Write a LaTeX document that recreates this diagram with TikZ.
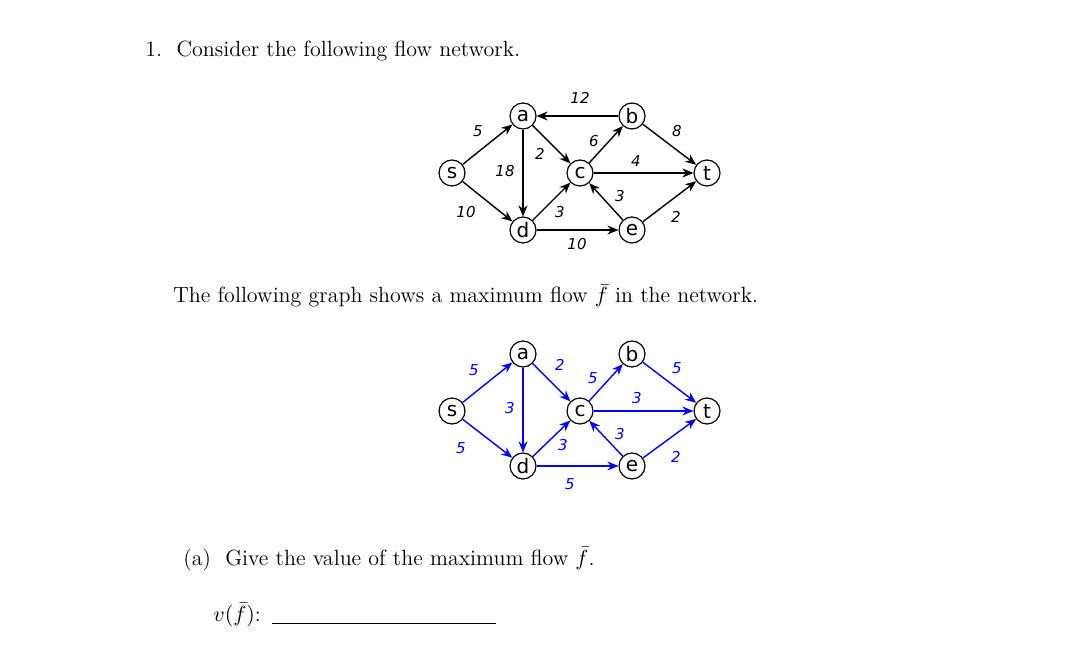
\documentclass[tikz,border=0pt]{standalone}
\usepackage{fontspec}
\newfontfamily\sansf{DejaVu Sans}
\usetikzlibrary{arrows.meta}
\begin{document}
\begin{tikzpicture}[x=0.5pt,y=-0.5pt,
 v/.style={circle,draw,line width=0.6pt,minimum size=13pt,inner sep=0pt,font=\sansf\fontsize{10}{10}\selectfont},
 e/.style={line width=0.7pt,-{Stealth[length=5.5pt,width=4.5pt]}},
 be/.style={e,blue},
 l/.style={font=\sansf\itshape\fontsize{7.5}{7.5}\selectfont},
 bl/.style={l,text=blue},
 t/.style={anchor=base west,font=\fontsize{11}{13}\selectfont,inner sep=0pt}]
\useasboundingbox (0,0) rectangle (1074,651);
\node[t] (tx1) at (145,57) {1.\ \ Consider the following flow network.};
\node[t] (tx2) at (173,303) {The following graph shows a maximum flow $\bar f$ in the network.};
\node[t] (tx3) at (183,565) {(a)\ \ Give the value of the maximum flow $\bar f$.};
\node[t] (tx4) at (213,621) {$v(\bar f)$:};
\coordinate (l1) at (272,623); \coordinate (l2) at (496,623);
\draw[line width=0.5pt] (l1) -- (l2);
% top graph
\foreach \n/\x/\y in {s/452/173,a/523/116,b/632/116,c/580/173,d/523/230,e/632/230,t/707/173}
  \node[v] (\n) at (\x,\y) {\n};
\draw[e] (s)--(a); \draw[e] (s)--(d); \draw[e] (b)--(a); \draw[e] (a)--(d); \draw[e] (a)--(c);
\draw[e] (c)--(b); \draw[e] (c)--(t); \draw[e] (b)--(t); \draw[e] (d)--(c); \draw[e] (e)--(c);
\draw[e] (d)--(e); \draw[e] (e)--(t);
\foreach \p/\x/\y in {5/478/131,12/580/98,8/677/131,2/540/154,18/505/171,6/594/141,4/636/161,3/620/196,10/466/212,3/560/212,2/676/217,10/577/244}
  \node[l] at (\x,\y) {\p};
% bottom graph
\foreach \n/\x/\y in {s/452/411,a/523/354,b/632/354,c/580/411,d/523/466,e/632/466,t/707/411}
  \node[v] (B\n) at (\x,\y) {\n};
\draw[be] (Bs)--(Ba); \draw[be] (Bs)--(Bd); \draw[be] (Ba)--(Bd); \draw[be] (Ba)--(Bc);
\draw[be] (Bc)--(Bb); \draw[be] (Bc)--(Bt); \draw[be] (Bb)--(Bt); \draw[be] (Bd)--(Bc);
\draw[be] (Be)--(Bc); \draw[be] (Bd)--(Be); \draw[be] (Be)--(Bt);
\foreach \p/\x/\y in {5/474/370,2/560/365,5/593/378,5/677/368,3/510/408,3/637/398,3/620/434,3/563/445,5/461/448,5/570/484,2/676/457}
  \node[bl] at (\x,\y) {\p};
\end{tikzpicture}
\end{document}
